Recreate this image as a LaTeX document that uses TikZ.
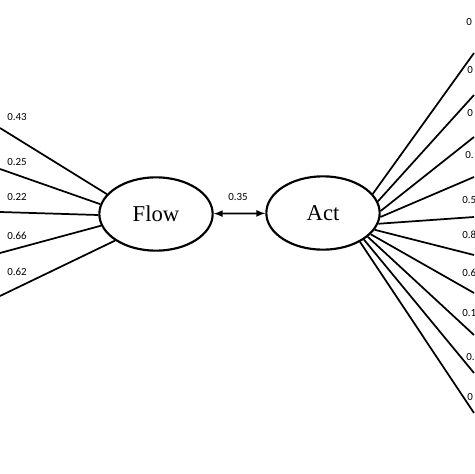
\documentclass[tikz,border=0pt]{standalone}
\usepackage{fontspec}
\setmainfont{Liberation Serif}
\newfontfamily\coeffont{Carlito}
\usepackage{tikz}
\usetikzlibrary{shapes,arrows,positioning}

\begin{document}
\begin{tikzpicture}[x=0.75pt,y=-0.75pt,
		latent/.style={draw,ellipse,line width=1.6pt,minimum width=85pt,minimum height=55pt,inner sep=0pt,font=\fontsize{17}{20}\selectfont},
		load/.style={line width=1.3pt},
		coef/.style={anchor=west,inner sep=0pt,font=\coeffont\fontsize{8.2}{10}\selectfont}]
	\useasboundingbox (0,0) rectangle (474,474);
	
	% ---------- factors ----------
	\node[latent] (flow) at (156,214) {Flow};
	\node[latent] (act) at (323,213) {Act};
	
	% correlation
	\draw[load,latex-latex] (flow) -- (act);
	\node[coef,anchor=center] (r) at (238,197) {0.35};
	
	% ---------- Flow indicators ----------
	\coordinate (f1) at (0,128);
	\coordinate (f2) at (0,169);
	\coordinate (f3) at (0,212);
	\coordinate (f4) at (0,253);
	\coordinate (f5) at (0,296);
	
	\draw[load] (f1) -- (flow.158);
	\draw[load] (f2) -- (flow.170);
	\draw[load] (f3) -- (flow.181);
	\draw[load] (f4) -- (flow.192);
	\draw[load] (f5) -- (flow.213);
	
	\node[coef] (lf1) at (7,117) {0.43};
	\node[coef] (lf2) at (7,162) {0.25};
	\node[coef] (lf3) at (7,197) {0.22};
	\node[coef] (lf4) at (7,236) {0.66};
	\node[coef] (lf5) at (7,272) {0.62};
	
	% ---------- Act indicators ----------
	\coordinate (a1) at (474,53);
	\coordinate (a2) at (474,95);
	\coordinate (a3) at (474,137);
	\coordinate (a4) at (474,177);
	\coordinate (a5) at (474,217);
	\coordinate (a6) at (474,255);
	\coordinate (a7) at (474,293);
	\coordinate (a8) at (474,335);
	\coordinate (a9) at (474,373);
	\coordinate (a10) at (474,413);
	
	\draw[load] (act.21) -- (a1);
	\draw[load] (act.12) -- (a2);
	\draw[load] (act.2) -- (a3);
	\draw[load] (act.356) -- (a4);
	\draw[load] (act.349) -- (a5);
	\draw[load] (act.342) -- (a6);
	\draw[load] (act.336) -- (a7);
	\draw[load] (act.332) -- (a8);
	\draw[load] (act.327) -- (a9);
	\draw[load] (act.322) -- (a10);
	
	% labels run off the right edge
	\node[coef] (la1) at (466,22) {0};
	\node[coef] (la2) at (467,70) {0};
	\node[coef] (la3) at (467,113) {0};
	\node[coef] (la4) at (465,155) {0.};
	\node[coef] (la5) at (462,200) {0.5};
	\node[coef] (la6) at (462,235) {0.8};
	\node[coef] (la7) at (462,273) {0.6};
	\node[coef] (la8) at (462,313) {0.1};
	\node[coef] (la9) at (466,357) {0.};
	\node[coef] (la10) at (467,397) {0};
	
\end{tikzpicture}
\end{document}
